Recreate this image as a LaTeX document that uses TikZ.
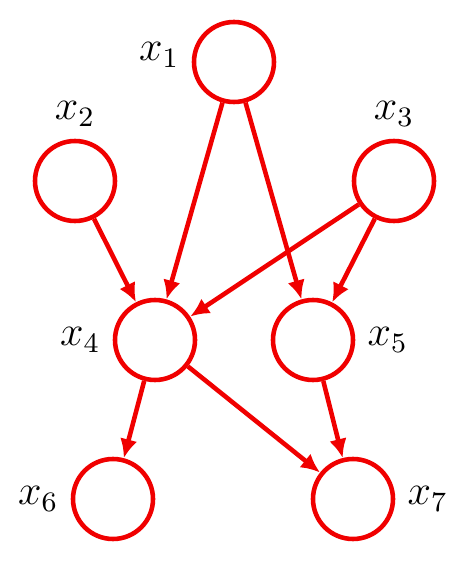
\documentclass[tikz,border=0pt]{standalone}
\usepackage{amsmath}
\usepackage{xcolor}
\usepackage{tikz}
\usetikzlibrary{arrows.meta}
\definecolor{graphRed}{HTML}{F00000}

\begin{document}
\begin{tikzpicture}[
    font=\large,
    varnode/.style={circle, draw=graphRed, line width=1.3pt, minimum size=0.8cm, inner sep=0pt},
    edge/.style={draw=graphRed, line width=1.3pt, -{Latex[length=5.4pt, width=5pt]}}]
    \useasboundingbox (0,0) rectangle (4.74,5.71);
    \node[varnode, label={[yshift=2pt]left:$x_1$}] (x1) at (2.34,5.09) {};
    \node[varnode, label=above:$x_2$] (x2) at (0.75,3.90) {};
    \node[varnode, label=above:$x_3$] (x3) at (3.94,3.90) {};
    \node[varnode, label=left:$x_4$] (x4) at (1.55,2.31) {};
    \node[varnode, label=right:$x_5$] (x5) at (3.13,2.31) {};
    \node[varnode, label=left:$x_6$] (x6) at (1.13,0.72) {};
    \node[varnode, label=right:$x_7$] (x7) at (3.53,0.72) {};
    \draw[edge] (x1) -- (x4);
    \draw[edge] (x1) -- (x5);
    \draw[edge] (x2) -- (x4);
    \draw[edge] (x3) -- (x4);
    \draw[edge] (x3) -- (x5);
    \draw[edge] (x4) -- (x6);
    \draw[edge] (x4) -- (x7);
    \draw[edge] (x5) -- (x7);
\end{tikzpicture}
\end{document}
